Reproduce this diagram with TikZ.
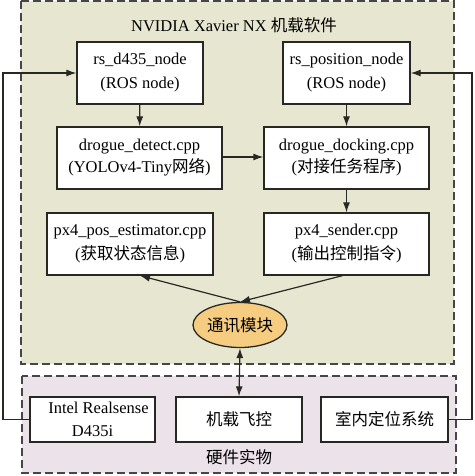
\documentclass[tikz,border=0pt]{standalone}
\usepackage{fontspec}
\setmainfont{Liberation Serif}
\newfontfamily\cjk{Noto Sans CJK SC}
\usetikzlibrary{shapes.geometric,arrows.meta,calc}
\definecolor{topfill}{RGB}{231,231,209}
\definecolor{botfill}{RGB}{236,226,234}
\definecolor{ellfill}{RGB}{246,204,128}
\definecolor{edge}{RGB}{40,40,35}
\definecolor{dashc}{RGB}{70,70,70}
\tikzset{
  box/.style={draw=edge,line width=1.3pt,fill=white,align=center,inner sep=0pt,
    font=\fontsize{16.5}{24}\selectfont},
  grp/.style={draw=dashc,line width=1.3pt,dash pattern=on 8pt off 4pt},
  arr/.style={draw=edge,line width=1.2pt,-{Latex[length=10pt,width=7pt]}},
  darr/.style={draw=edge,line width=1.2pt,{Latex[length=10pt,width=7pt]}-{Latex[length=10pt,width=7pt]}},
  ln/.style={draw=edge,line width=1.2pt},
  lbl/.style={font=\fontsize{16.5}{20}\selectfont,inner sep=0pt}
}
\begin{document}
\begin{tikzpicture}[x=1pt,y=-1pt]
\useasboundingbox (0,0) rectangle (474,476);
\fill[white] (0,0) rectangle (474,476);
% groups
\draw[grp,fill=topfill] (21,1) rectangle (454,364);
\draw[grp,fill=botfill] (22,376) rectangle (456,473);
\node[lbl] (title) at (234,25) {NVIDIA Xavier NX {\cjk 机载软件}};
\node[lbl] (hw) at (239,457) {\cjk 硬件实物};
% nodes
\node[box,minimum width=126pt,minimum height=62pt] (rsd) at (140,73) {rs\_d435\_node\\(ROS node)};
\node[box,minimum width=127pt,minimum height=62pt] (rsp) at (346.5,73) {rs\_position\_node\\(ROS node)};
\node[box,minimum width=165pt,minimum height=62pt,font=\fontsize{16.5}{22}\selectfont] (det) at (139.5,158) {drogue\_detect.cpp\\(YOLOv4-Tiny{\cjk 网络})};
\node[box,minimum width=165pt,minimum height=62pt,font=\fontsize{16.5}{22}\selectfont] (dock) at (346.5,158) {drogue\_docking.cpp\\({\cjk 对接任务程序})};
\node[box,minimum width=166pt,minimum height=62pt] (est) at (130,244) {px4\_pos\_estimator.cpp\\({\cjk 获取状态信息})};
\node[box,minimum width=165pt,minimum height=62pt] (snd) at (346.5,244) {px4\_sender.cpp\\({\cjk 输出控制指令})};
\node[draw=edge,line width=1.3pt,fill=ellfill,ellipse,minimum width=94pt,minimum height=45pt,inner sep=0pt,font=\fontsize{16.5}{20}\selectfont] (comm) at (240,325) {\cjk 通讯模块};
\node[box,minimum width=125pt,minimum height=45pt,font=\fontsize{16.5}{23}\selectfont] (intel) at (92.5,419.5) {\hspace*{12pt}Intel Realsense\\D435i};
\node[box,minimum width=126pt,minimum height=45pt] (fc) at (239,419.5) {\cjk 机载飞控};
\node[box,minimum width=127pt,minimum height=45pt] (pos) at (384.5,419.5) {\cjk 室内定位系统};
\coordinate (L) at (3,73);
\coordinate (R) at (472,73);
% connectors
\draw[arr] (rsd) -- (det);
\draw[arr] (rsp) -- (dock);
\draw[arr] (det.east |- 0,157) -- (dock.west |- 0,157);
\draw[arr] (dock) -- (snd);
\draw[arr] ($(snd.south)+(-4,0)$) -- (comm.north);
\draw[arr] (comm.north) -- ($(est.south)+(10,0)$);
\draw[darr] (comm.south) -- (fc.north);
\draw[arr] (intel.west) -| (L) -- (rsd.west);
\draw[arr] (pos.east) -| (R) -- (rsp.east);
\end{tikzpicture}
\end{document}
